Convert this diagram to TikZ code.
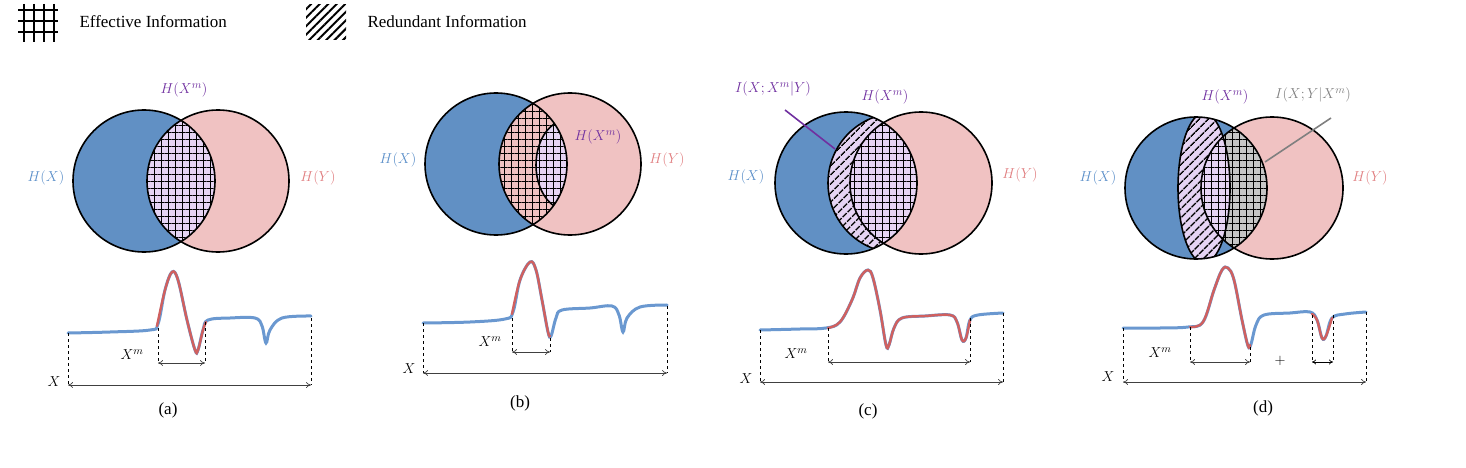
\documentclass[tikz,border=0pt]{standalone}
\usepackage{fontspec}
\setmainfont{Liberation Serif}
\usetikzlibrary{patterns.meta,arrows.meta}
\definecolor{cblue}{HTML}{6190C4}
\definecolor{cpink}{HTML}{F0C2C2}
\definecolor{cpur}{HTML}{E6D4F4}
\definecolor{lblue}{HTML}{5B8FC9}
\definecolor{lpink}{HTML}{E07E80}
\definecolor{lpur}{HTML}{7030A0}
\definecolor{cgrey}{HTML}{C6C6C6}
\definecolor{lgrey}{HTML}{808080}
\definecolor{sred}{HTML}{D0605F}
\definecolor{sblue}{HTML}{6A98D0}
\begin{document}
\begin{tikzpicture}[x=1pt,y=-1pt,
  gridp/.style={pattern={Hatch[angle=0,distance=7pt,line width=0.7pt]}},
  hatchp/.style={pattern={Lines[angle=45,distance=6.5pt,line width=1.7pt]}},
  circ/.style={line width=1.6pt,draw=black},
  sigb/.style={line width=3pt,draw=sblue,line cap=round},
  sigr/.style={line width=2.4pt,draw=sred,line cap=round},
  dsh/.style={dashed,line width=0.7pt},
  arr/.style={{To[length=5pt,width=6pt]}-{To[length=5pt,width=6pt]},line width=0.7pt,draw=black!75},
  lab/.style={font=\fontsize{15}{18}\selectfont},
  captxt/.style={font=\fontsize{17}{20}\selectfont},
  ]
\useasboundingbox (0,0) rectangle (1466,468);

% ---------- legend ----------
\foreach \x in {24,34,44,54} \draw[line width=1.4pt] (\x,4) -- (\x,42);
\foreach \y in {10,21,32} \draw[line width=1.4pt] (18,\y) -- (58,\y);
\node[anchor=west,font=\fontsize{17}{20}\selectfont] (leg1) at (76,22) {Effective Information};
\begin{scope}
  \clip (306,5) rectangle (346,40);
  \fill[pattern={Lines[angle=45,distance=6pt,line width=2pt]}] (300,0) rectangle (350,45);
\end{scope}
\node[anchor=west,font=\fontsize{17}{20}\selectfont] (leg2) at (364,22) {Redundant Information};

% ---------- (a) ----------
\fill[cblue] (144,181) circle (71);
\fill[cpink] (218,181) circle (71);
\begin{scope}
  \clip (144,181) circle (71);
  \fill[cpur] (218,181) circle (71);
  \fill[gridp] (218,181) circle (71);
\end{scope}
\draw[circ] (144,181) circle (71);
\draw[circ] (218,181) circle (71);
\node[lab,text=lpur] (ahxm) at (184,90) {$H(X^m)$};
\node[lab,text=lblue] (ahx) at (46,178) {$H(X)$};
\node[lab,text=lpink] (ahy) at (318,178) {$H(Y)$};
\draw[sigb] plot[smooth,tension=.6] coordinates {(68,333) (110,332) (150,330) (158,324) (165,290) (172,272) (178,280) (187,320) (195,350) (198,350) (203,330) (208,320) (230,318) (255,318) (262,326) (266,343) (270,330) (282,318) (311,316)};
\draw[sigr] plot[smooth,tension=.6] coordinates {(157,326) (165,290) (172,272) (178,280) (187,320) (195,350) (198,350) (203,330) (206,322)};
\coordinate (a1) at (68,333); \coordinate (a1b) at (68,385);
\coordinate (a2) at (158,328); \coordinate (a2b) at (158,363);
\coordinate (a3) at (205,322); \coordinate (a3b) at (205,363);
\coordinate (a4) at (311,318); \coordinate (a4b) at (311,385);
\draw[dsh] (a1) -- (a1b); \draw[dsh] (a2) -- (a2b); \draw[dsh] (a3) -- (a3b); \draw[dsh] (a4) -- (a4b);
\draw[arr] (a2b) -- (a3b);
\draw[arr] (a1b) -- (a4b);
\node[lab] (axm) at (132,355) {$X^m$};
\node[lab] (ax) at (54,382) {$X$};
\node[captxt] (capa) at (168,410) {(a)};

% ---------- (b) ----------
\fill[cblue] (496,164) circle (71);
\fill[cpink] (570,164) circle (71);
\begin{scope}
  \clip (496,164) circle (71);
  \fill[gridp] (570,164) circle (71);
  \fill[cpur] (567,165) ellipse (31 and 45);
  \fill[gridp] (567,165) ellipse (31 and 45);
  \draw[circ] (567,165) ellipse (31 and 45);
\end{scope}
\draw[circ] (496,164) circle (71);
\draw[circ] (570,164) circle (71);
\node[lab,text=lpur] (bhxm) at (598,137) {$H(X^m)$};
\node[lab,text=lblue] (bhx) at (398,160) {$H(X)$};
\node[lab,text=lpink] (bhy) at (667,160) {$H(Y)$};
\draw[sigb] plot[smooth,tension=.6] coordinates {(423,323) (470,322) (505,319) (513,312) (520,280) (530,262) (536,270) (542,300) (548,332) (551,336) (556,318) (562,310) (590,308) (612,306) (619,315) (623,332) (627,318) (640,307) (667,305)};
\draw[sigr] plot[smooth,tension=.6] coordinates {(512,314) (520,280) (530,262) (536,270) (542,300) (548,332) (550,336)};
\coordinate (b1) at (423,323); \coordinate (b1b) at (423,373);
\coordinate (b2) at (512,318); \coordinate (b2b) at (512,352);
\coordinate (b3) at (550,338); \coordinate (b3b) at (550,352);
\coordinate (b4) at (667,306); \coordinate (b4b) at (667,373);
\draw[dsh] (b1) -- (b1b); \draw[dsh] (b2) -- (b2b); \draw[dsh] (b3) -- (b3b); \draw[dsh] (b4) -- (b4b);
\draw[arr] (b2b) -- (b3b);
\draw[arr] (b1b) -- (b4b);
\node[lab] (bxm) at (490,342) {$X^m$};
\node[lab] (bx) at (409,369) {$X$};
\node[captxt] (capb) at (520,403) {(b)};

% ---------- (c) ----------
\fill[cblue] (846,183) circle (71);
\fill[cpink] (921,183) circle (71);
\begin{scope}
  \clip (846,183) circle (71);
  \fill[cpur] (898,183) circle (70);
  \fill[hatchp] (898,183) circle (70);
  \fill[cpur] (921,183) circle (71);
  \fill[gridp] (921,183) circle (71);
  \draw[circ] (898,183) circle (70);
\end{scope}
\draw[circ] (846,183) circle (71);
\draw[circ] (921,183) circle (71);
\node[lab,text=lpur] (chxm) at (885,97) {$H(X^m)$};
\node[lab,text=lpur] (ci) at (773,89) {$I(X;X^m|Y)$};
\coordinate (cpt) at (835,149);
\draw[lpur,line width=1.6pt] (785,110) -- (cpt);
\node[lab,text=lblue] (chx) at (746,177) {$H(X)$};
\node[lab,text=lpink] (chy) at (1020,175) {$H(Y)$};
\draw[sigb] plot[smooth,tension=.6] coordinates {(760,330) (800,329) (826,328) (840,322) (852,300) (860,278) (868,270) (873,278) (880,310) (886,345) (889,345) (894,328) (902,318) (925,316) (950,315) (957,322) (962,340) (966,338) (970,320) (978,315) (1003,313)};
\draw[sigr] plot[smooth,tension=.6] coordinates {(828,328) (840,322) (852,300) (860,278) (868,270) (873,278) (880,310) (886,345) (889,345) (894,328) (902,318) (925,316) (950,315) (957,322) (962,340) (966,338) (970,320)};
\coordinate (c1) at (760,330); \coordinate (c1b) at (760,382);
\coordinate (c2) at (828,328); \coordinate (c2b) at (828,362);
\coordinate (c3) at (970,318); \coordinate (c3b) at (970,362);
\coordinate (c4) at (1003,313); \coordinate (c4b) at (1003,382);
\draw[dsh] (c1) -- (c1b); \draw[dsh] (c2) -- (c2b); \draw[dsh] (c3) -- (c3b); \draw[dsh] (c4) -- (c4b);
\draw[arr] (c2b) -- (c3b);
\draw[arr] (c1b) -- (c4b);
\node[lab] (cxm) at (796,354) {$X^m$};
\node[lab] (cx) at (746,379) {$X$};
\node[captxt] (capc) at (868,411) {(c)};

% ---------- (d) ----------
\fill[cblue] (1196,188) circle (71);
\fill[cpink] (1272,188) circle (71);
\begin{scope}
  \clip (1196,188) circle (71);
  \fill[cpur] (1204,188) ellipse (26 and 75);
  \fill[hatchp] (1204,188) ellipse (26 and 75);
  \fill[cgrey] (1272,188) circle (71);
  \begin{scope}
    \clip (1272,188) circle (71);
    \fill[cpur] (1204,188) ellipse (26 and 75);
  \end{scope}
  \fill[gridp] (1272,188) circle (71);
  \draw[circ] (1204,188) ellipse (26 and 75);
\end{scope}
\draw[circ] (1196,188) circle (71);
\draw[circ] (1272,188) circle (71);
\node[lab,text=lpur] (dhxm) at (1225,97) {$H(X^m)$};
\node[lab,text=lgrey] (di) at (1313,95) {$I(X;Y|X^m)$};
\coordinate (dpt) at (1265,162);
\draw[lgrey,line width=1.6pt] (1331,118) -- (dpt);
\node[lab,text=lblue] (dhx) at (1098,178) {$H(X)$};
\node[lab,text=lpink] (dhy) at (1370,178) {$H(Y)$};
\draw[sigb] plot[smooth,tension=.6] coordinates {(1123,328) (1160,328) (1188,327) (1203,322) (1214,290) (1222,270) (1228,268) (1234,280) (1242,320) (1248,346) (1251,344) (1256,325) (1264,315) (1290,313) (1310,312) (1317,320) (1322,338) (1326,336) (1332,318) (1345,314) (1366,312)};
\draw[sigr] plot[smooth,tension=.6] coordinates {(1190,327) (1203,322) (1214,290) (1222,270) (1228,268) (1234,280) (1242,320) (1248,346) (1250,345)};
\draw[sigr] plot[smooth,tension=.6] coordinates {(1312,314) (1317,320) (1322,338) (1326,336) (1332,318)};
\coordinate (d1) at (1123,328); \coordinate (d1b) at (1123,382);
\coordinate (d2) at (1190,327); \coordinate (d2b) at (1190,362);
\coordinate (d3) at (1250,347); \coordinate (d3b) at (1250,362);
\coordinate (d5) at (1312,315); \coordinate (d5b) at (1312,362);
\coordinate (d6) at (1333,315); \coordinate (d6b) at (1333,362);
\coordinate (d4) at (1366,312); \coordinate (d4b) at (1366,382);
\draw[dsh] (d1) -- (d1b); \draw[dsh] (d2) -- (d2b); \draw[dsh] (d3) -- (d3b);
\draw[dsh] (d5) -- (d5b); \draw[dsh] (d6) -- (d6b); \draw[dsh] (d4) -- (d4b);
\draw[arr] (d2b) -- (d3b);
\draw[{To[length=4pt,width=5pt]}-{To[length=4pt,width=5pt]},line width=0.7pt,black] (d5b) -- (d6b);
\draw[arr] (d1b) -- (d4b);
\node[lab] (dplus) at (1280,361) {$+$};
\node[lab] (dxm) at (1160,353) {$X^m$};
\node[lab] (dx) at (1108,377) {$X$};
\node[captxt] (capd) at (1263,408) {(d)};
\end{tikzpicture}
\end{document}
